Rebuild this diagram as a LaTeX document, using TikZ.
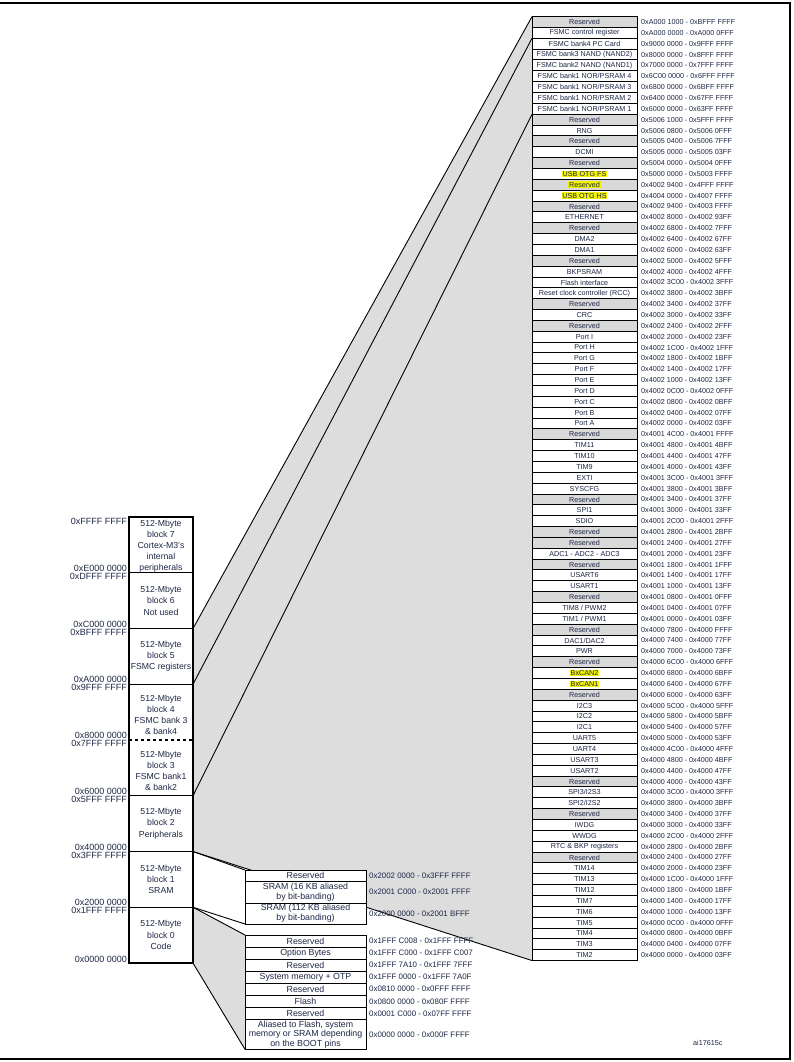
\documentclass[tikz,border=0pt]{standalone}
\usepackage{fontspec}
\setmainfont{Liberation Sans}
\pgfdeclarelayer{background}
\pgfsetlayers{background,main}
\definecolor{txt}{HTML}{1E2746}
\definecolor{resgray}{HTML}{D9D9D9}
\definecolor{fangray}{HTML}{DDDDDD}
\definecolor{hly}{HTML}{F2F200}
\newcommand\hlt[1]{{\setlength{\fboxsep}{0.7pt}\colorbox{hly}{#1}}}
\begin{document}
\begin{tikzpicture}[x=1pt,y=-1pt,
  every node/.style={text=txt},
  rowbox/.style={draw=black, line width=1pt, minimum width=105pt, minimum height=10.85pt,
    inner sep=0pt, outer sep=0pt, anchor=north west, font=\fontsize{7.2}{8}\selectfont},
  addr/.style={anchor=west, inner sep=0pt, font=\fontsize{7.2}{8}\selectfont},
  blockbox/.style={draw=black, line width=1.1pt, minimum width=64pt, minimum height=55.75pt,
    inner sep=0pt, outer sep=0pt, anchor=north west},
  blockbare/.style={minimum width=64pt, minimum height=55.75pt,
    inner sep=0pt, outer sep=0pt, anchor=north west},
  blocktext/.style={align=center, inner sep=0pt, font=\fontsize{8.7}{11.3}\selectfont},
  lbl/.style={anchor=base east, inner sep=0pt, font=\fontsize{9}{10}\selectfont},
  sbox/.style={draw=black, line width=1pt, fill=white, minimum width=121pt, inner sep=0pt,
    outer sep=0pt, anchor=north west, align=center, font=\fontsize{8.8}{9.6}\selectfont},
  saddr/.style={anchor=west, inner sep=0pt, font=\fontsize{7.9}{9}\selectfont},
  fanline/.style={draw=black, line width=0.9pt}
]
\useasboundingbox (0,0) rectangle (793,1062);

% outer frame
\draw[line width=1.2pt] (0,3) -- (790,3) -- (790,1059) -- (0,1059);

% ---------- 512-Mbyte blocks ----------
\node[blockbox] (blk7) at (129,517) {};
\node[blockbox] (blk6) at (129,572.75) {};
\node[blockbox] (blk5) at (129,628.5) {};
\node[blockbare] (blk4) at (129,684.25) {};
\node[blockbare] (blk3) at (129,740) {};
\node[blockbox] (blk2) at (129,795.75) {};
\node[blockbox] (blk1) at (129,851.5) {};
\node[blockbox] (blk0) at (129,907.25) {};
\draw[line width=1.1pt] (blk4.north west) rectangle (blk3.south east);
\draw[line width=1.1pt, dashed] (blk4.south west) -- (blk4.south east);

\node[blocktext, font=\fontsize{8.7}{10.9}\selectfont] (t7) at ([yshift=-1.5pt]blk7.center) {512-Mbyte\\block 7\\Cortex-M3's\\internal\\peripherals};
\node[blocktext] (t6) at (blk6.center) {512-Mbyte\\block 6\\Not used};
\node[blocktext] (t5) at (blk5.center) {512-Mbyte\\block 5\\FSMC registers};
\node[blocktext, font=\fontsize{8.7}{11}\selectfont] (t4) at ([yshift=-3pt]blk4.center) {512-Mbyte\\block 4\\FSMC bank 3\\\& bank4};
\node[blocktext, font=\fontsize{8.7}{11}\selectfont] (t3) at ([yshift=-3.5pt]blk3.center) {512-Mbyte\\block 3\\FSMC bank1\\\& bank2};
\node[blocktext] (t2) at (blk2.center) {512-Mbyte\\block 2\\Peripherals};
\node[blocktext] (t1) at (blk1.center) {512-Mbyte\\block 1\\SRAM};
\node[blocktext] (t0) at (blk0.center) {512-Mbyte\\block 0\\Code};

% boundary labels
\node[lbl] (l1) at (127,524) {0xFFFF FFFF};
\node[lbl] (l2) at (127,571.25) {0xE000 0000};
\node[lbl] (l3) at (127,579.25) {0xDFFF FFFF};
\node[lbl] (l4) at (127,627) {0xC000 0000};
\node[lbl] (l5) at (127,635) {0xBFFF FFFF};
\node[lbl] (l6) at (127,682.75) {0xA000 0000};
\node[lbl] (l7) at (127,690.75) {0x9FFF FFFF};
\node[lbl] (l8) at (127,738.5) {0x8000 0000};
\node[lbl] (l9) at (127,746.5) {0x7FFF FFFF};
\node[lbl] (l10) at (127,794.25) {0x6000 0000};
\node[lbl] (l11) at (127,802.25) {0x5FFF FFFF};
\node[lbl] (l12) at (127,850) {0x4000 0000};
\node[lbl] (l13) at (127,858) {0x3FFF FFFF};
\node[lbl] (l14) at (127,905.75) {0x2000 0000};
\node[lbl] (l15) at (127,913.75) {0x1FFF FFFF};
\node[lbl] (l16) at (127,962) {0x0000 0000};

% ---------- peripheral / FSMC register list ----------
\foreach \nm/\ad/\fc [count=\i] in {
 {Reserved}/{0xA000 1000 - 0xBFFF FFFF}/resgray,
 {FSMC control register}/{0xA000 0000 - 0xA000 0FFF}/white,
 {FSMC bank4 PC Card}/{0x9000 0000 - 0x9FFF FFFF}/white,
 {FSMC bank3 NAND (NAND2)}/{0x8000 0000 - 0x8FFF FFFF}/white,
 {FSMC bank2 NAND (NAND1)}/{0x7000 0000 - 0x7FFF FFFF}/white,
 {FSMC bank1 NOR/PSRAM 4}/{0x6C00 0000 - 0x6FFF FFFF}/white,
 {FSMC bank1 NOR/PSRAM 3}/{0x6800 0000 - 0x6BFF FFFF}/white,
 {FSMC bank1 NOR/PSRAM 2}/{0x6400 0000 - 0x67FF FFFF}/white,
 {FSMC bank1 NOR/PSRAM 1}/{0x6000 0000 - 0x63FF FFFF}/white,
 {Reserved}/{0x5006 1000 - 0x5FFF FFFF}/resgray,
 {RNG}/{0x5006 0800 - 0x5006 0FFF}/white,
 {Reserved}/{0x5005 0400 - 0x5006 7FFF}/resgray,
 {DCMI}/{0x5005 0000 - 0x5005 03FF}/white,
 {Reserved}/{0x5004 0000 - 0x5004 0FFF}/resgray,
 {\hlt{USB OTG FS}}/{0x5000 0000 - 0x5003 FFFF}/white,
 {\hlt{Reserved}}/{0x4002 9400 - 0x4FFF FFFF}/resgray,
 {\hlt{USB OTG HS}}/{0x4004 0000 - 0x4007 FFFF}/white,
 {Reserved}/{0x4002 9400 - 0x4003 FFFF}/resgray,
 {ETHERNET}/{0x4002 8000 - 0x4002 93FF}/white,
 {Reserved}/{0x4002 6800 - 0x4002 7FFF}/resgray,
 {DMA2}/{0x4002 6400 - 0x4002 67FF}/white,
 {DMA1}/{0x4002 6000 - 0x4002 63FF}/white,
 {Reserved}/{0x4002 5000 - 0x4002 5FFF}/resgray,
 {BKPSRAM}/{0x4002 4000 - 0x4002 4FFF}/white,
 {Flash interface}/{0x4002 3C00 - 0x4002 3FFF}/white,
 {Reset clock controller (RCC)}/{0x4002 3800 - 0x4002 3BFF}/white,
 {Reserved}/{0x4002 3400 - 0x4002 37FF}/resgray,
 {CRC}/{0x4002 3000 - 0x4002 33FF}/white,
 {Reserved}/{0x4002 2400 - 0x4002 2FFF}/resgray,
 {Port I}/{0x4002 2000 - 0x4002 23FF}/white,
 {Port H}/{0x4002 1C00 - 0x4002 1FFF}/white,
 {Port G}/{0x4002 1800 - 0x4002 1BFF}/white,
 {Port F}/{0x4002 1400 - 0x4002 17FF}/white,
 {Port E}/{0x4002 1000 - 0x4002 13FF}/white,
 {Port D}/{0x4002 0C00 - 0x4002 0FFF}/white,
 {Port C}/{0x4002 0800 - 0x4002 0BFF}/white,
 {Port B}/{0x4002 0400 - 0x4002 07FF}/white,
 {Port A}/{0x4002 0000 - 0x4002 03FF}/white,
 {Reserved}/{0x4001 4C00 - 0x4001 FFFF}/resgray,
 {TIM11}/{0x4001 4800 - 0x4001 4BFF}/white,
 {TIM10}/{0x4001 4400 - 0x4001 47FF}/white,
 {TIM9}/{0x4001 4000 - 0x4001 43FF}/white,
 {EXTI}/{0x4001 3C00 - 0x4001 3FFF}/white,
 {SYSCFG}/{0x4001 3800 - 0x4001 3BFF}/white,
 {Reserved}/{0x4001 3400 - 0x4001 37FF}/resgray,
 {SPI1}/{0x4001 3000 - 0x4001 33FF}/white,
 {SDIO}/{0x4001 2C00 - 0x4001 2FFF}/white,
 {Reserved}/{0x4001 2800 - 0x4001 2BFF}/resgray,
 {Reserved}/{0x4001 2400 - 0x4001 27FF}/resgray,
 {ADC1 - ADC2 - ADC3}/{0x4001 2000 - 0x4001 23FF}/white,
 {Reserved}/{0x4001 1800 - 0x4001 1FFF}/resgray,
 {USART6}/{0x4001 1400 - 0x4001 17FF}/white,
 {USART1}/{0x4001 1000 - 0x4001 13FF}/white,
 {Reserved}/{0x4001 0800 - 0x4001 0FFF}/resgray,
 {TIM8 / PWM2}/{0x4001 0400 - 0x4001 07FF}/white,
 {TIM1 / PWM1}/{0x4001 0000 - 0x4001 03FF}/white,
 {Reserved}/{0x4000 7800 - 0x4000 FFFF}/resgray,
 {DAC1/DAC2}/{0x4000 7400 - 0x4000 77FF}/white,
 {PWR}/{0x4000 7000 - 0x4000 73FF}/white,
 {Reserved}/{0x4000 6C00 - 0x4000 6FFF}/resgray,
 {\hlt{BxCAN2}}/{0x4000 6800 - 0x4000 6BFF}/white,
 {\hlt{BxCAN1}}/{0x4000 6400 - 0x4000 67FF}/white,
 {Reserved}/{0x4000 6000 - 0x4000 63FF}/resgray,
 {I2C3}/{0x4000 5C00 - 0x4000 5FFF}/white,
 {I2C2}/{0x4000 5800 - 0x4000 5BFF}/white,
 {I2C1}/{0x4000 5400 - 0x4000 57FF}/white,
 {UART5}/{0x4000 5000 - 0x4000 53FF}/white,
 {UART4}/{0x4000 4C00 - 0x4000 4FFF}/white,
 {USART3}/{0x4000 4800 - 0x4000 4BFF}/white,
 {USART2}/{0x4000 4400 - 0x4000 47FF}/white,
 {Reserved}/{0x4000 4000 - 0x4000 43FF}/resgray,
 {SPI3/I2S3}/{0x4000 3C00 - 0x4000 3FFF}/white,
 {SPI2/I2S2}/{0x4000 3800 - 0x4000 3BFF}/white,
 {Reserved}/{0x4000 3400 - 0x4000 37FF}/resgray,
 {IWDG}/{0x4000 3000 - 0x4000 33FF}/white,
 {WWDG}/{0x4000 2C00 - 0x4000 2FFF}/white,
 {RTC \& BKP registers}/{0x4000 2800 - 0x4000 2BFF}/white,
 {Reserved}/{0x4000 2400 - 0x4000 27FF}/resgray,
 {TIM14}/{0x4000 2000 - 0x4000 23FF}/white,
 {TIM13}/{0x4000 1C00 - 0x4000 1FFF}/white,
 {TIM12}/{0x4000 1800 - 0x4000 1BFF}/white,
 {TIM7}/{0x4000 1400 - 0x4000 17FF}/white,
 {TIM6}/{0x4000 1000 - 0x4000 13FF}/white,
 {TIM5}/{0x4000 0C00 - 0x4000 0FFF}/white,
 {TIM4}/{0x4000 0800 - 0x4000 0BFF}/white,
 {TIM3}/{0x4000 0400 - 0x4000 07FF}/white,
 {TIM2}/{0x4000 0000 - 0x4000 03FF}/white}
{
  \node[rowbox, fill=\fc] (row\i) at (532,{16.6+(\i-1)*10.85}) {\nm};
  \node[addr] (addr\i) at ([xshift=4pt]row\i.east) {\ad};
}

% ---------- SRAM detail ----------
\node[sbox, minimum height=11pt] (sram1) at (245,870) {Reserved};
\node[sbox, minimum height=22pt] (sram2) at (245,881) {SRAM (16 KB aliased\\by bit-banding)};
\node[sbox, minimum height=21pt] (sram3) at (245,903) {SRAM (112 KB aliased\\by bit-banding)};
\node[saddr] (sa1) at ([xshift=3pt]sram1.east) {0x2002 0000 - 0x3FFF FFFF};
\node[saddr] (sa2) at ([xshift=3pt]sram2.east) {0x2001 C000 - 0x2001 FFFF};
\node[saddr] (sa3) at ([xshift=3pt]sram3.east) {0x2000 0000 - 0x2001 BFFF};

% ---------- Code detail ----------
\foreach \nm/\ad [count=\i] in {
 {Reserved}/{0x1FFF C008 - 0x1FFF FFFF},
 {Option Bytes}/{0x1FFF C000 - 0x1FFF C007},
 {Reserved}/{0x1FFF 7A10 - 0x1FFF 7FFF},
 {System memory + OTP}/{0x1FFF 0000 - 0x1FFF 7A0F},
 {Reserved}/{0x0810 0000 - 0x0FFF FFFF},
 {Flash}/{0x0800 0000 - 0x080F FFFF},
 {Reserved}/{0x0001 C000 - 0x07FF FFFF}}
{
  \node[sbox, minimum height=12.05pt] (code\i) at (245,{935+(\i-1)*12.05}) {\nm};
  \node[saddr] (ca\i) at ([xshift=3pt]code\i.east) {\ad};
}
\node[sbox, minimum height=30pt] (code8) at (245,1019.35) {Aliased to Flash, system\\memory or SRAM depending\\on the BOOT pins};
\node[saddr] (ca8) at ([xshift=3pt]code8.east) {0x0000 0000 - 0x000F FFFF};

\node[anchor=west, inner sep=0pt, font=\fontsize{7.2}{8}\selectfont] (ref) at (693,1043) {ai17615c};

% ---------- fans ----------
\begin{pgfonlayer}{background}
\fill[fangray] (blk5.north east) -- (row1.north west) -- (row2.south west) -- (blk5.south east) -- cycle;
\fill[fangray] (blk4.north east) -- (row3.north west) -- (row9.south west) -- (blk3.south east) -- cycle;
\fill[fangray] (blk2.north east) -- (row10.north west) -- (row87.south west) -- (blk2.south east) -- cycle;
\fill[fangray] (blk0.north east) -- (code1.north west) -- (code8.south west) -- (blk0.south east) -- cycle;
\draw[fanline] (blk5.north east) -- (row1.north west);
\draw[fanline] (blk5.south east) -- (row2.south west);
\draw[fanline] (blk3.south east) -- (row9.south west);
\draw[fanline] (blk2.south east) -- (row87.south west);
\draw[fanline] (blk1.north east) -- (sram1.north west);
\draw[fanline] (blk1.south east) -- (sram3.south west);
\draw[fanline] (blk0.north east) -- (code1.north west);
\draw[fanline] (blk0.south east) -- (code8.south west);
\end{pgfonlayer}
\end{tikzpicture}
\end{document}
